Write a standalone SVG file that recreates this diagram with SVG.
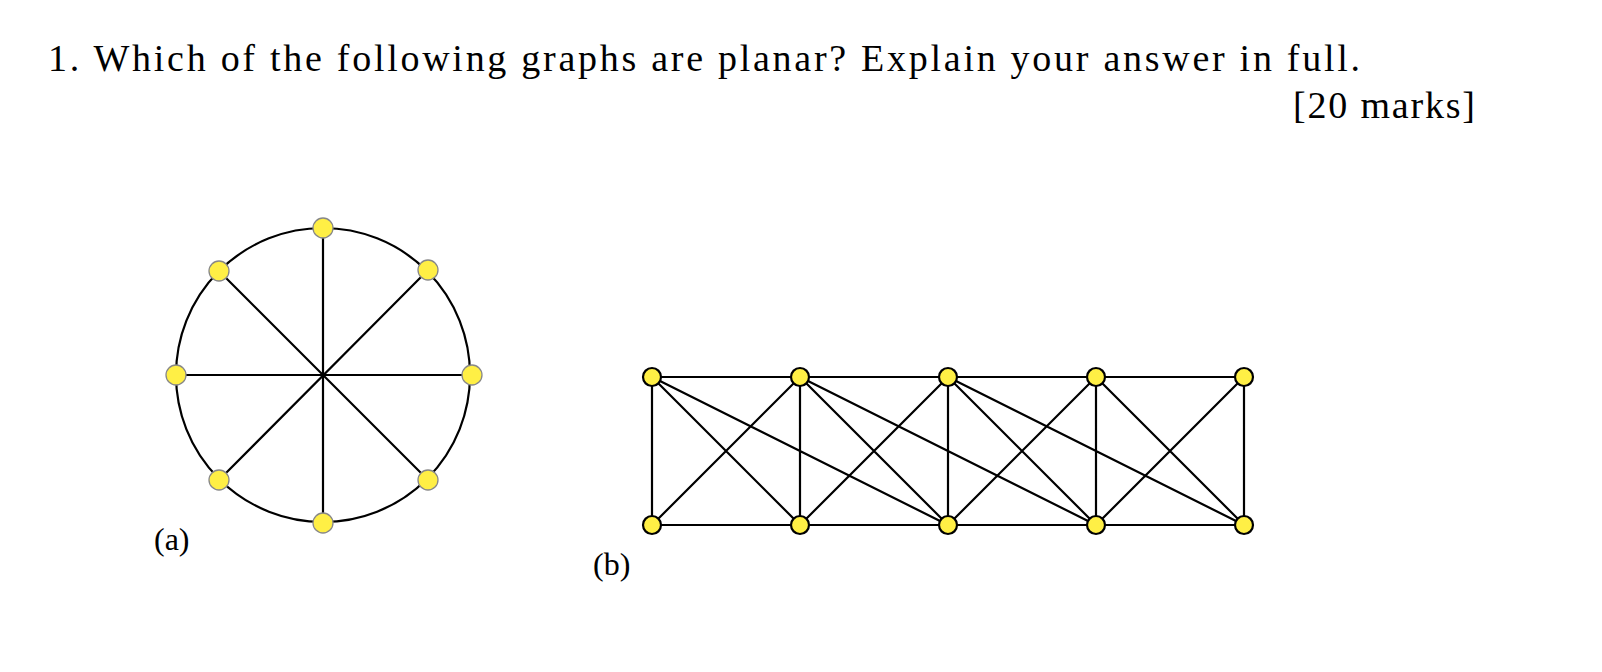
<svg xmlns="http://www.w3.org/2000/svg" width="1602" height="672" viewBox="0 0 1602 672">
<style>
text{font-family:"Liberation Serif","DejaVu Serif",serif;fill:#000}
.e{stroke:#000;stroke-width:2.2;fill:none}
.na{fill:#FFEF45;stroke:#888;stroke-width:1.3}
.nb{fill:#FFEF45;stroke:#000;stroke-width:2.2}
</style>
<rect width="1602" height="672" fill="#fff"/>
<text x="48" y="71" font-size="38" textLength="1312" lengthAdjust="spacing">1.  Which of the following graphs are planar? Explain your answer in full.</text>
<text x="1293" y="118" font-size="38" textLength="182" lengthAdjust="spacing">[20 marks]</text>
<text x="154" y="550" font-size="32">(a)</text>
<text x="593" y="575" font-size="32">(b)</text>
<g id="connectors">
<circle class="e" cx="323" cy="375" r="147"/>
<path class="e" d="M323 228V523M176 375H472M219 271L428 480M428 270L219 480"/>
<path class="e" d="M652 377H1244M652 525H1244M652 377V525M800 377V525M948 377V525M1096 377V525M1244 377V525
M652 377L800 525M652 377L948 525M800 377L948 525M800 377L1096 525M948 377L1096 525M948 377L1244 525M1096 377L1244 525
M652 525L800 377M800 525L948 377M948 525L1096 377M1096 525L1244 377"/>
</g>
<g id="a1"><circle class="na" cx="323" cy="228" r="10"/></g>
<g id="a2"><circle class="na" cx="219" cy="271" r="10"/></g>
<g id="a3"><circle class="na" cx="428" cy="270" r="10"/></g>
<g id="a4"><circle class="na" cx="176" cy="375" r="10"/></g>
<g id="a5"><circle class="na" cx="472" cy="375" r="10"/></g>
<g id="a6"><circle class="na" cx="219" cy="480" r="10"/></g>
<g id="a7"><circle class="na" cx="428" cy="480" r="10"/></g>
<g id="a8"><circle class="na" cx="323" cy="523" r="10"/></g>
<g id="t1"><circle class="nb" cx="652" cy="377" r="9"/></g>
<g id="t2"><circle class="nb" cx="800" cy="377" r="9"/></g>
<g id="t3"><circle class="nb" cx="948" cy="377" r="9"/></g>
<g id="t4"><circle class="nb" cx="1096" cy="377" r="9"/></g>
<g id="t5"><circle class="nb" cx="1244" cy="377" r="9"/></g>
<g id="b1"><circle class="nb" cx="652" cy="525" r="9"/></g>
<g id="b2"><circle class="nb" cx="800" cy="525" r="9"/></g>
<g id="b3"><circle class="nb" cx="948" cy="525" r="9"/></g>
<g id="b4"><circle class="nb" cx="1096" cy="525" r="9"/></g>
<g id="b5"><circle class="nb" cx="1244" cy="525" r="9"/></g>
</svg>
